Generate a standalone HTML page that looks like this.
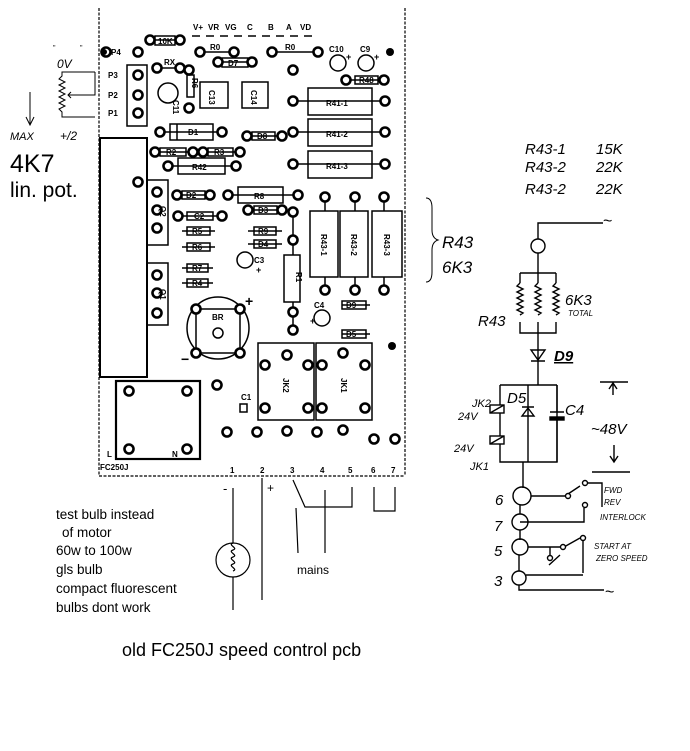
<!DOCTYPE html>
<html><head><meta charset="utf-8"><style>
html,body{margin:0;padding:0;background:#fff;}
svg{display:block;}
text{font-family:"Liberation Sans",sans-serif;fill:#000;}
.b{font-weight:bold;font-size:8px;}
.h{font-family:"Liberation Sans",sans-serif;font-style:italic;}
</style></head><body>
<svg width="690" height="751" viewBox="0 0 690 751" xmlns="http://www.w3.org/2000/svg">
<defs>
<g id="p"><circle r="4.5" fill="#fff" stroke="#000" stroke-width="2.6"/></g>
</defs>
<g fill="none" stroke="#000" stroke-width="1.5">
<!-- board border -->
<line x1="99" y1="8" x2="99" y2="476" stroke-dasharray="3,1.5" stroke-width="1.2"/>
<line x1="405" y1="8" x2="405" y2="476" stroke-dasharray="3,1.5" stroke-width="1.2"/>
<line x1="99" y1="476" x2="405" y2="476" stroke-dasharray="3,1.5" stroke-width="1.2"/>
<!-- heatsink -->
<rect x="100" y="138" width="47" height="239" stroke-width="2"/>
<!-- transformer -->
<rect x="116" y="381" width="84" height="78" stroke-width="2.2"/>
<!-- P connector -->
<rect x="127" y="65" width="20" height="61"/>
<!-- Q2 Q1 -->
<rect x="147" y="180" width="21" height="65"/>
<rect x="147" y="263" width="21" height="62"/>
<!-- top resistor boxes -->
<rect x="155" y="36" width="20" height="9"/>
<rect x="222" y="58" width="26" height="9"/>
<rect x="187" y="75" width="7" height="22"/>
<rect x="200" y="82" width="28" height="26"/>
<rect x="242" y="82" width="26" height="26"/>
<rect x="355" y="76" width="23" height="8"/>
<rect x="308" y="88" width="64" height="27"/>
<rect x="308" y="119" width="64" height="27"/>
<rect x="308" y="151" width="64" height="27"/>
<rect x="170" y="124" width="43" height="16"/>
<line x1="177" y1="124" x2="177" y2="140"/>
<rect x="252" y="132" width="23" height="8"/>
<rect x="160" y="148" width="26" height="8"/>
<rect x="208" y="148" width="25" height="8"/>
<rect x="178" y="158" width="47" height="16"/>
<rect x="182" y="191" width="23" height="8"/>
<rect x="238" y="187" width="45" height="16"/>
<rect x="254" y="206" width="23" height="8"/>
<rect x="187" y="212" width="26" height="8"/>
<rect x="187" y="227" width="23" height="8"/>
<rect x="254" y="227" width="22" height="8"/>
<rect x="187" y="243" width="23" height="8"/>
<rect x="254" y="240" width="22" height="8"/>
<rect x="187" y="264" width="21" height="8"/>
<rect x="187" y="279" width="21" height="8"/>
<rect x="310" y="211" width="28" height="66"/>
<rect x="340" y="211" width="28" height="66"/>
<rect x="372" y="211" width="30" height="66"/>
<rect x="284" y="255" width="16" height="47"/>
<rect x="342" y="301" width="24" height="8"/>
<rect x="342" y="330" width="24" height="8"/>
<rect x="240" y="404" width="7" height="8"/>
<!-- relays -->
<rect x="258" y="343" width="56" height="77"/>
<rect x="316" y="343" width="56" height="77"/>
<!-- leads -->
<path d="M150 40H180M200 52H234M272 52H318M157 68H180M218 62H252M346 80H384M293 101H385M293 132H385M293 164H385M160 132H222M247 136H282M155 152H240M168 166H236M177 195H210M228 195H298M248 210H282M178 216H222M182 231H215M248 231H282M182 247H215M248 244H282M182 268H213M182 283H213M342 305H370M342 334H370"/>
<path d="M325 197V211M355 197V211M384 197V211M325 277V290M355 277V290M384 277V290M293 210V255M293 302V330"/>
<!-- caps -->
<circle cx="338" cy="63" r="8"/><circle cx="366" cy="63" r="8"/>
<circle cx="168" cy="93" r="10"/><circle cx="245" cy="260" r="8"/><circle cx="322" cy="318" r="8"/>
<!-- BR -->
<circle cx="218" cy="328" r="31"/>
<rect x="196" y="309" width="44" height="44"/>
<circle cx="218" cy="333" r="5"/>
</g>
<g>
<use href="#p" x="106" y="52"/><use href="#p" x="138" y="52"/>
<use href="#p" x="138" y="75"/><use href="#p" x="138" y="95"/><use href="#p" x="138" y="113"/>
<use href="#p" x="150" y="40"/><use href="#p" x="180" y="40"/>
<use href="#p" x="200" y="52"/><use href="#p" x="234" y="52"/><use href="#p" x="272" y="52"/><use href="#p" x="318" y="52"/>
<use href="#p" x="157" y="68"/><use href="#p" x="180" y="68"/><use href="#p" x="189" y="70"/><use href="#p" x="189" y="108"/>
<use href="#p" x="218" y="62"/><use href="#p" x="252" y="62"/><use href="#p" x="293" y="70"/>
<use href="#p" x="346" y="80"/><use href="#p" x="384" y="80"/>
<use href="#p" x="293" y="101"/><use href="#p" x="385" y="101"/><use href="#p" x="293" y="132"/><use href="#p" x="385" y="132"/><use href="#p" x="293" y="164"/><use href="#p" x="385" y="164"/>
<use href="#p" x="160" y="132"/><use href="#p" x="222" y="132"/><use href="#p" x="247" y="136"/><use href="#p" x="282" y="136"/>
<use href="#p" x="155" y="152"/><use href="#p" x="193" y="152"/><use href="#p" x="203" y="152"/><use href="#p" x="240" y="152"/>
<use href="#p" x="168" y="166"/><use href="#p" x="236" y="166"/>
<use href="#p" x="138" y="182"/><use href="#p" x="157" y="192"/><use href="#p" x="157" y="210"/><use href="#p" x="157" y="228"/>
<use href="#p" x="177" y="195"/><use href="#p" x="210" y="195"/><use href="#p" x="228" y="195"/><use href="#p" x="298" y="195"/>
<use href="#p" x="248" y="210"/><use href="#p" x="282" y="210"/><use href="#p" x="178" y="216"/><use href="#p" x="222" y="216"/>
<use href="#p" x="293" y="212"/><use href="#p" x="293" y="240"/><use href="#p" x="293" y="312"/><use href="#p" x="293" y="330"/>
<use href="#p" x="325" y="197"/><use href="#p" x="355" y="197"/><use href="#p" x="384" y="197"/>
<use href="#p" x="325" y="290"/><use href="#p" x="355" y="290"/><use href="#p" x="384" y="290"/>
<use href="#p" x="157" y="275"/><use href="#p" x="157" y="293"/><use href="#p" x="157" y="313"/>
<use href="#p" x="196" y="309"/><use href="#p" x="240" y="309"/><use href="#p" x="196" y="353"/><use href="#p" x="240" y="353"/>
<use href="#p" x="129" y="391"/><use href="#p" x="187" y="391"/><use href="#p" x="129" y="449"/><use href="#p" x="187" y="449"/>
<use href="#p" x="265" y="365"/><use href="#p" x="287" y="355"/><use href="#p" x="308" y="365"/><use href="#p" x="265" y="408"/><use href="#p" x="308" y="408"/>
<use href="#p" x="322" y="365"/><use href="#p" x="343" y="353"/><use href="#p" x="365" y="365"/><use href="#p" x="322" y="408"/><use href="#p" x="365" y="408"/>
<use href="#p" x="227" y="432"/><use href="#p" x="257" y="432"/><use href="#p" x="287" y="431"/><use href="#p" x="317" y="432"/><use href="#p" x="343" y="430"/><use href="#p" x="374" y="439"/><use href="#p" x="395" y="439"/>
<use href="#p" x="217" y="385"/>
</g>
<circle cx="390" cy="52" r="4" fill="#000"/><circle cx="392" cy="346" r="4" fill="#000"/><circle cx="104" cy="52" r="3" fill="#000"/>
<!-- top pads row -->
<g fill="none" stroke="#000" stroke-width="1.6">
<path d="M192 36h8M206 36h8M220 36h8M234 36h8M248 36h8M262 36h8M276 36h8M290 36h8M304 36h8"/>
</g>
<g class="b" font-size="8">
<text x="193" y="30" class="b">V+</text><text x="208" y="30" class="b">VR</text><text x="225" y="30" class="b">VG</text>
<text x="247" y="30" class="b">C</text><text x="268" y="30" class="b">B</text><text x="286" y="30" class="b">A</text><text x="300" y="30" class="b">VD</text>
<text x="158" y="44" class="b" font-size="7">10K</text>
<text x="111" y="55" class="b">P4</text><text x="108" y="78" class="b">P3</text><text x="108" y="98" class="b">P2</text><text x="108" y="116" class="b">P1</text>
<text x="210" y="50" class="b">R0</text><text x="285" y="50" class="b">R0</text><text x="164" y="65" class="b">RX</text>
<text x="228" y="66" class="b" font-size="7">D7</text><text x="329" y="52" class="b">C10</text><text x="360" y="52" class="b">C9</text>
<text x="359" y="83" class="b" font-size="6">R48</text>
<text x="326" y="106" class="b">R41-1</text><text x="326" y="137" class="b">R41-2</text><text x="326" y="169" class="b">R41-3</text>
<text x="188" y="135" class="b">D1</text><text x="257" y="139" class="b" font-size="7">D8</text>
<text x="166" y="155" class="b" font-size="7">R2</text><text x="214" y="155" class="b" font-size="7">R3</text>
<text x="192" y="170" class="b">R42</text><text x="254" y="199" class="b">R8</text>
<text x="186" y="198" class="b" font-size="7">D2</text><text x="258" y="213" class="b" font-size="7">D3</text>
<text x="194" y="219" class="b" font-size="7">C2</text><text x="192" y="234" class="b" font-size="7">R5</text><text x="258" y="234" class="b" font-size="7">R9</text>
<text x="192" y="250" class="b" font-size="7">R6</text><text x="258" y="247" class="b" font-size="7">D4</text>
<text x="192" y="271" class="b" font-size="7">R7</text><text x="192" y="286" class="b" font-size="7">R4</text>
<text x="346" y="308" class="b" font-size="7">D9</text><text x="346" y="337" class="b" font-size="7">D5</text>
<text x="254" y="263" class="b">C3</text><text x="314" y="308" class="b">C4</text>
<text x="212" y="320" class="b">BR</text><text x="241" y="400" class="b">C1</text>
<text x="107" y="457" class="b">L</text><text x="172" y="457" class="b">N</text>
<text x="100" y="470" class="b">FC250J</text>
<text x="230" y="473" class="b">1</text><text x="260" y="473" class="b">2</text><text x="290" y="473" class="b">3</text><text x="320" y="473" class="b">4</text><text x="348" y="473" class="b">5</text><text x="371" y="473" class="b">6</text><text x="391" y="473" class="b">7</text>
<text x="245" y="306" font-size="14" font-weight="bold">+</text><text x="181" y="364" font-size="14" font-weight="bold">−</text>
<text x="256" y="273" font-size="9" font-weight="bold">+</text><text x="310" y="324" font-size="9" font-weight="bold">+</text>
<text x="346" y="60" font-size="9" font-weight="bold">+</text><text x="374" y="60" font-size="9" font-weight="bold">+</text>
</g>
<g class="b" font-size="8">
<text transform="translate(209,90) rotate(90)" class="b">C13</text>
<text transform="translate(251,90) rotate(90)" class="b">C14</text>
<text transform="translate(192,78) rotate(90)" class="b" font-size="6">R6</text>
<text transform="translate(173,100) rotate(90)" class="b" font-size="7">C11</text>
<text transform="translate(160,206) rotate(90)" class="b">Q2</text>
<text transform="translate(160,289) rotate(90)" class="b">Q1</text>
<text transform="translate(296,272) rotate(90)" class="b">R1</text>
<text transform="translate(321,234) rotate(90)" class="b">R43-1</text>
<text transform="translate(351,234) rotate(90)" class="b">R43-2</text>
<text transform="translate(384,234) rotate(90)" class="b">R43-3</text>
<text transform="translate(283,378) rotate(90)" class="b">JK2</text>
<text transform="translate(341,378) rotate(90)" class="b">JK1</text>
</g>
<!-- left pot -->
<g fill="none" stroke="#000" stroke-width="1">
<path d="M95 72H62V76l-3 3 6 3-6 3 6 3-6 3 6 3-6 3 6 3-6 3 6 3-6 3 3 3V117H95"/>
<path d="M95 72V95H68M71 92l-3 3 3 3"/>
<path d="M30 92V125M26 117l4 8 4-8"/>
<path d="M426 198q6 0 6 10v22q0 8 6 10q-6 2-6 10v22q0 10-6 10"/>
</g>
<text x="57" y="68" font-size="12" class="h">0V</text>
<text x="53" y="50" font-size="7">"</text><text x="80" y="50" font-size="7">"</text>
<text x="10" y="140" font-size="11" class="h" fill="#555">MAX</text>
<text x="60" y="140" font-size="12" class="h">+/2</text>
<text x="10" y="172" font-size="25">4K7</text>
<text x="10" y="197" font-size="21">lin. pot.</text>
<text x="442" y="248" font-size="17" class="h">R43</text>
<text x="442" y="273" font-size="17" class="h">6K3</text>
<!-- bottom -->
<g fill="none" stroke="#000" stroke-width="1.2">
<path d="M233 488V543M233 577V610M262 478V600M293 480L305 507H352V487M296 508L298 553M325 490V553M374 487V511H395V487"/>
<circle cx="233" cy="560" r="17"/>
<path d="M233 543c-6 2 6 5 0 7c-6 2 6 5 0 7c-6 2 6 5 0 7c-6 2 6 5 0 7"/>
</g>
<text x="223" y="493" font-size="13">-</text><text x="267" y="492" font-size="12">+</text>
<text x="297" y="574" font-size="12">mains</text>
<g font-size="13.5">
<text x="56" y="519">test bulb instead</text>
<text x="62" y="537">of motor</text>
<text x="56" y="555">60w to 100w</text>
<text x="56" y="574">gls bulb</text>
<text x="56" y="593">compact fluorescent</text>
<text x="56" y="612">bulbs dont work</text>
</g>
<text x="122" y="656" font-size="18">old FC250J speed control pcb</text>
<!-- right schematic -->
<g class="h" font-size="15">
<text x="525" y="154">R43-1</text><text x="596" y="154">15K</text>
<text x="525" y="172">R43-2</text><text x="596" y="172">22K</text>
<text x="525" y="194">R43-2</text><text x="596" y="194">22K</text>
<text x="478" y="326">R43</text>
<text x="565" y="305">6K3</text>
<text x="554" y="361" font-weight="bold" text-decoration="underline">D9</text>
<text x="507" y="403">D5</text><text x="565" y="415">C4</text>
<text x="591" y="434">~48V</text>
<text x="495" y="505">6</text><text x="494" y="531">7</text><text x="494" y="556">5</text><text x="494" y="586">3</text>
</g>
<g class="h" font-size="11">
<text x="472" y="407">JK2</text><text x="458" y="420">24V</text><text x="454" y="452">24V</text><text x="470" y="470">JK1</text>
</g>
<g class="h" font-size="8">
<text x="568" y="316">TOTAL</text>
<text x="604" y="493">FWD</text><text x="604" y="505">REV</text><text x="600" y="520">INTERLOCK</text>
<text x="594" y="549">START AT</text><text x="596" y="561">ZERO SPEED</text>
</g>
<text x="603" y="226" font-size="16">~</text><text x="605" y="597" font-size="16">~</text>
<g fill="none" stroke="#000" stroke-width="1.4">
<path d="M603 223H538V239M538 253V273M520 273H556M520 273V283M538 273V283M556 273V283M520 322V333H556V322M538 322V333"/>
<circle cx="538" cy="246" r="7"/>
<path d="M520 283l-3 3 6 3-6 3 6 3-6 3 6 3-6 3 6 3-6 3 6 3 -3 2M538 283l-3 3 6 3-6 3 6 3-6 3 6 3-6 3 6 3-6 3 6 3 -3 2M556 283l-3 3 6 3-6 3 6 3-6 3 6 3-6 3 6 3-6 3 6 3 -3 2"/>
<path d="M538 333V385M531 350H545L538 360Z M531 361H545"/>
<path d="M500 385H557M500 385V462H557V385M528 385V462"/>
<rect x="490" y="405" width="14" height="8" fill="#fff"/>
<rect x="490" y="436" width="14" height="8" fill="#fff"/>
<path d="M490 413L504 405M490 444L504 436"/>
<path d="M522 416H534L528 408Z M522 407H534"/>
<path d="M550 412H564M550 418H564M557 385V412M557 418V462"/>
<rect x="550" y="417" width="14" height="3" fill="#000"/>
<path d="M600 382H628M613 383V395M609 389l4-6 4 6M614 445V462M610 456l4 6 4-6M592 472H630"/>
<path d="M523 462V488"/>
<circle cx="522" cy="496" r="9"/><circle cx="520" cy="522" r="8"/><circle cx="520" cy="547" r="8"/><circle cx="519" cy="578" r="7"/>
<path d="M531 496H565M565 496L580 486M588 483H602V507M520 530V540M520 514V505M520 522H584V508M528 547H550L560 547M550 547V555M564 547L580 538M583 539V573M519 555V571M519 585V590H604M526 575H583M549 565L560 555"/>
<circle cx="568" cy="496" r="2.5" fill="#fff"/><circle cx="585" cy="483" r="2.5" fill="#fff"/><circle cx="585" cy="505" r="2.5" fill="#fff"/>
<circle cx="563" cy="547" r="2.5" fill="#fff"/><circle cx="583" cy="538" r="2.5" fill="#fff"/><circle cx="550" cy="558" r="2.5" fill="#fff"/>
</g>
</svg>
</body></html>
